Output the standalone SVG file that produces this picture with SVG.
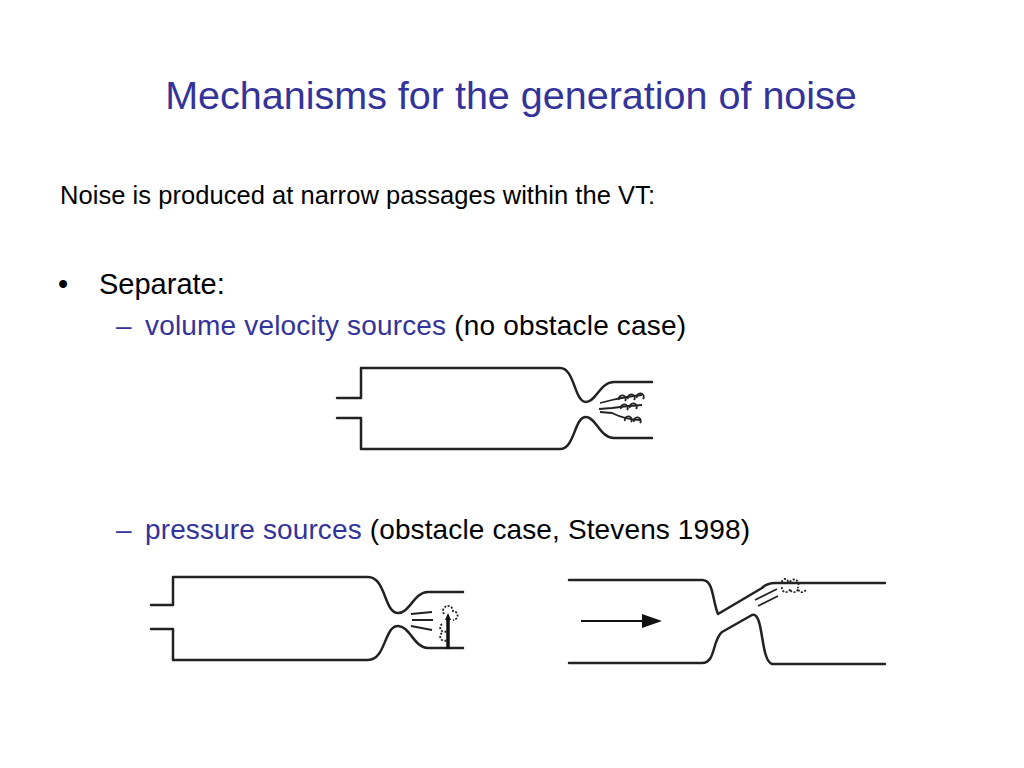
<svg xmlns="http://www.w3.org/2000/svg" width="1024" height="768" viewBox="0 0 1024 768">
<style>
.t{font-family:"Liberation Sans",Arial,sans-serif}
.w{fill:none;stroke:#222;stroke-width:2.5;stroke-linecap:round;stroke-linejoin:round}
.f{fill:none;stroke:#222;stroke-width:1.8}
</style>
<rect width="1024" height="768" fill="#fff"/>
<text class="t" x="511" y="109" font-size="39.5" fill="#333399" text-anchor="middle">Mechanisms for the generation of noise</text>
<text class="t" x="60" y="204" font-size="25.5" fill="#000" textLength="595">Noise is produced at narrow passages within the VT:</text>
<text class="t" x="58" y="294" font-size="29" fill="#000">•</text>
<text class="t" x="99" y="294" font-size="29" fill="#000">Separate:</text>
<text class="t" x="116" y="335" font-size="28" fill="#333399">–</text>
<text class="t" x="145" y="335" font-size="28" textLength="541"><tspan fill="#333399">volume velocity sources</tspan><tspan fill="#000"> (no obstacle case)</tspan></text>
<text class="t" x="116" y="539" font-size="28" fill="#333399">–</text>
<text class="t" x="145" y="539" font-size="28" textLength="605"><tspan fill="#333399">pressure sources</tspan><tspan fill="#000"> (obstacle case, Stevens 1998)</tspan></text>
<g id="fig1">
<path class="w" d="M337 398 H361 V368 H560 C575 368 574 402 586 402 C596 402 600 382 614 382 H652"/>
<path class="w" d="M337 418 H361 V449 H560 C575 449 574 417 586 417 C596 417 600 438 614 438 H652"/>
<path class="f" d="M600 403 L612 400 Q625 397 642 395 M599 409 L612 408 Q626 406 642 405 M600 412 L612 413 Q626 420 641 420"/>
<path class="f" d="M619 400 a3.5 3.5 0 1 1 6 1 M628 399 a3.5 3.5 0 1 1 6 1 M637 398 a3.5 3.5 0 1 1 6 1 M621 409 a3.5 3.5 0 1 1 6 1 M630 408 a3.5 3.5 0 1 1 6 1 M625 421 a3.5 3.5 0 1 1 6 1 M634 422 a3.5 3.5 0 1 1 6 1"/>
</g>
<g id="fig2">
<path class="w" d="M151 605 H173 V577 H368 C386 577 384 613 398 613 C410 613 414 592 428 592 H463"/>
<path class="w" d="M151 629 H173 V660 H368 C386 660 384 626 398 626 C410 626 414 648 428 648 H463"/>
<path class="f" d="M411 614 L432 612 M412 620 L433 620 M411 626 L432 630"/>
<path d="M448 649 V618" stroke="#111" stroke-width="3.5"/>
<path d="M445 620 L448 613 L451 620 Z" fill="#111"/>
<path class="f" stroke-dasharray="2 1.5" d="M444 614 a5 5 0 1 1 9 -3 a4 4 0 1 1 0 9 M442 624 a4 4 0 1 0 5 7 M442 633 a4 4 0 1 0 5 7"/>
</g>
<g id="fig3">
<path class="w" d="M569 580 H702 C714 580 712 600 718 614 L762 588 Q767 583 775 583 H885"/>
<path class="w" d="M569 663 H702 C716 663 712 640 722 632 L752 615 C764 611 760 660 772 664 H885"/>
<path class="f" d="M755 600 L777 589 M758 606 L778 596"/>
<path class="f" stroke-dasharray="2 1.5" d="M782 587 a4 4 0 1 0 8 2 a4 4 0 1 0 8 -2 a4 4 0 1 0 8 2 M790 582 a4 4 0 1 1 8 4 M782 582 a3 3 0 1 1 6 0"/>
<path d="M581 621 H645" stroke="#111" stroke-width="2.2"/>
<path d="M642 614 L662 621 L642 628 Z" fill="#111"/>
</g>
</svg>
